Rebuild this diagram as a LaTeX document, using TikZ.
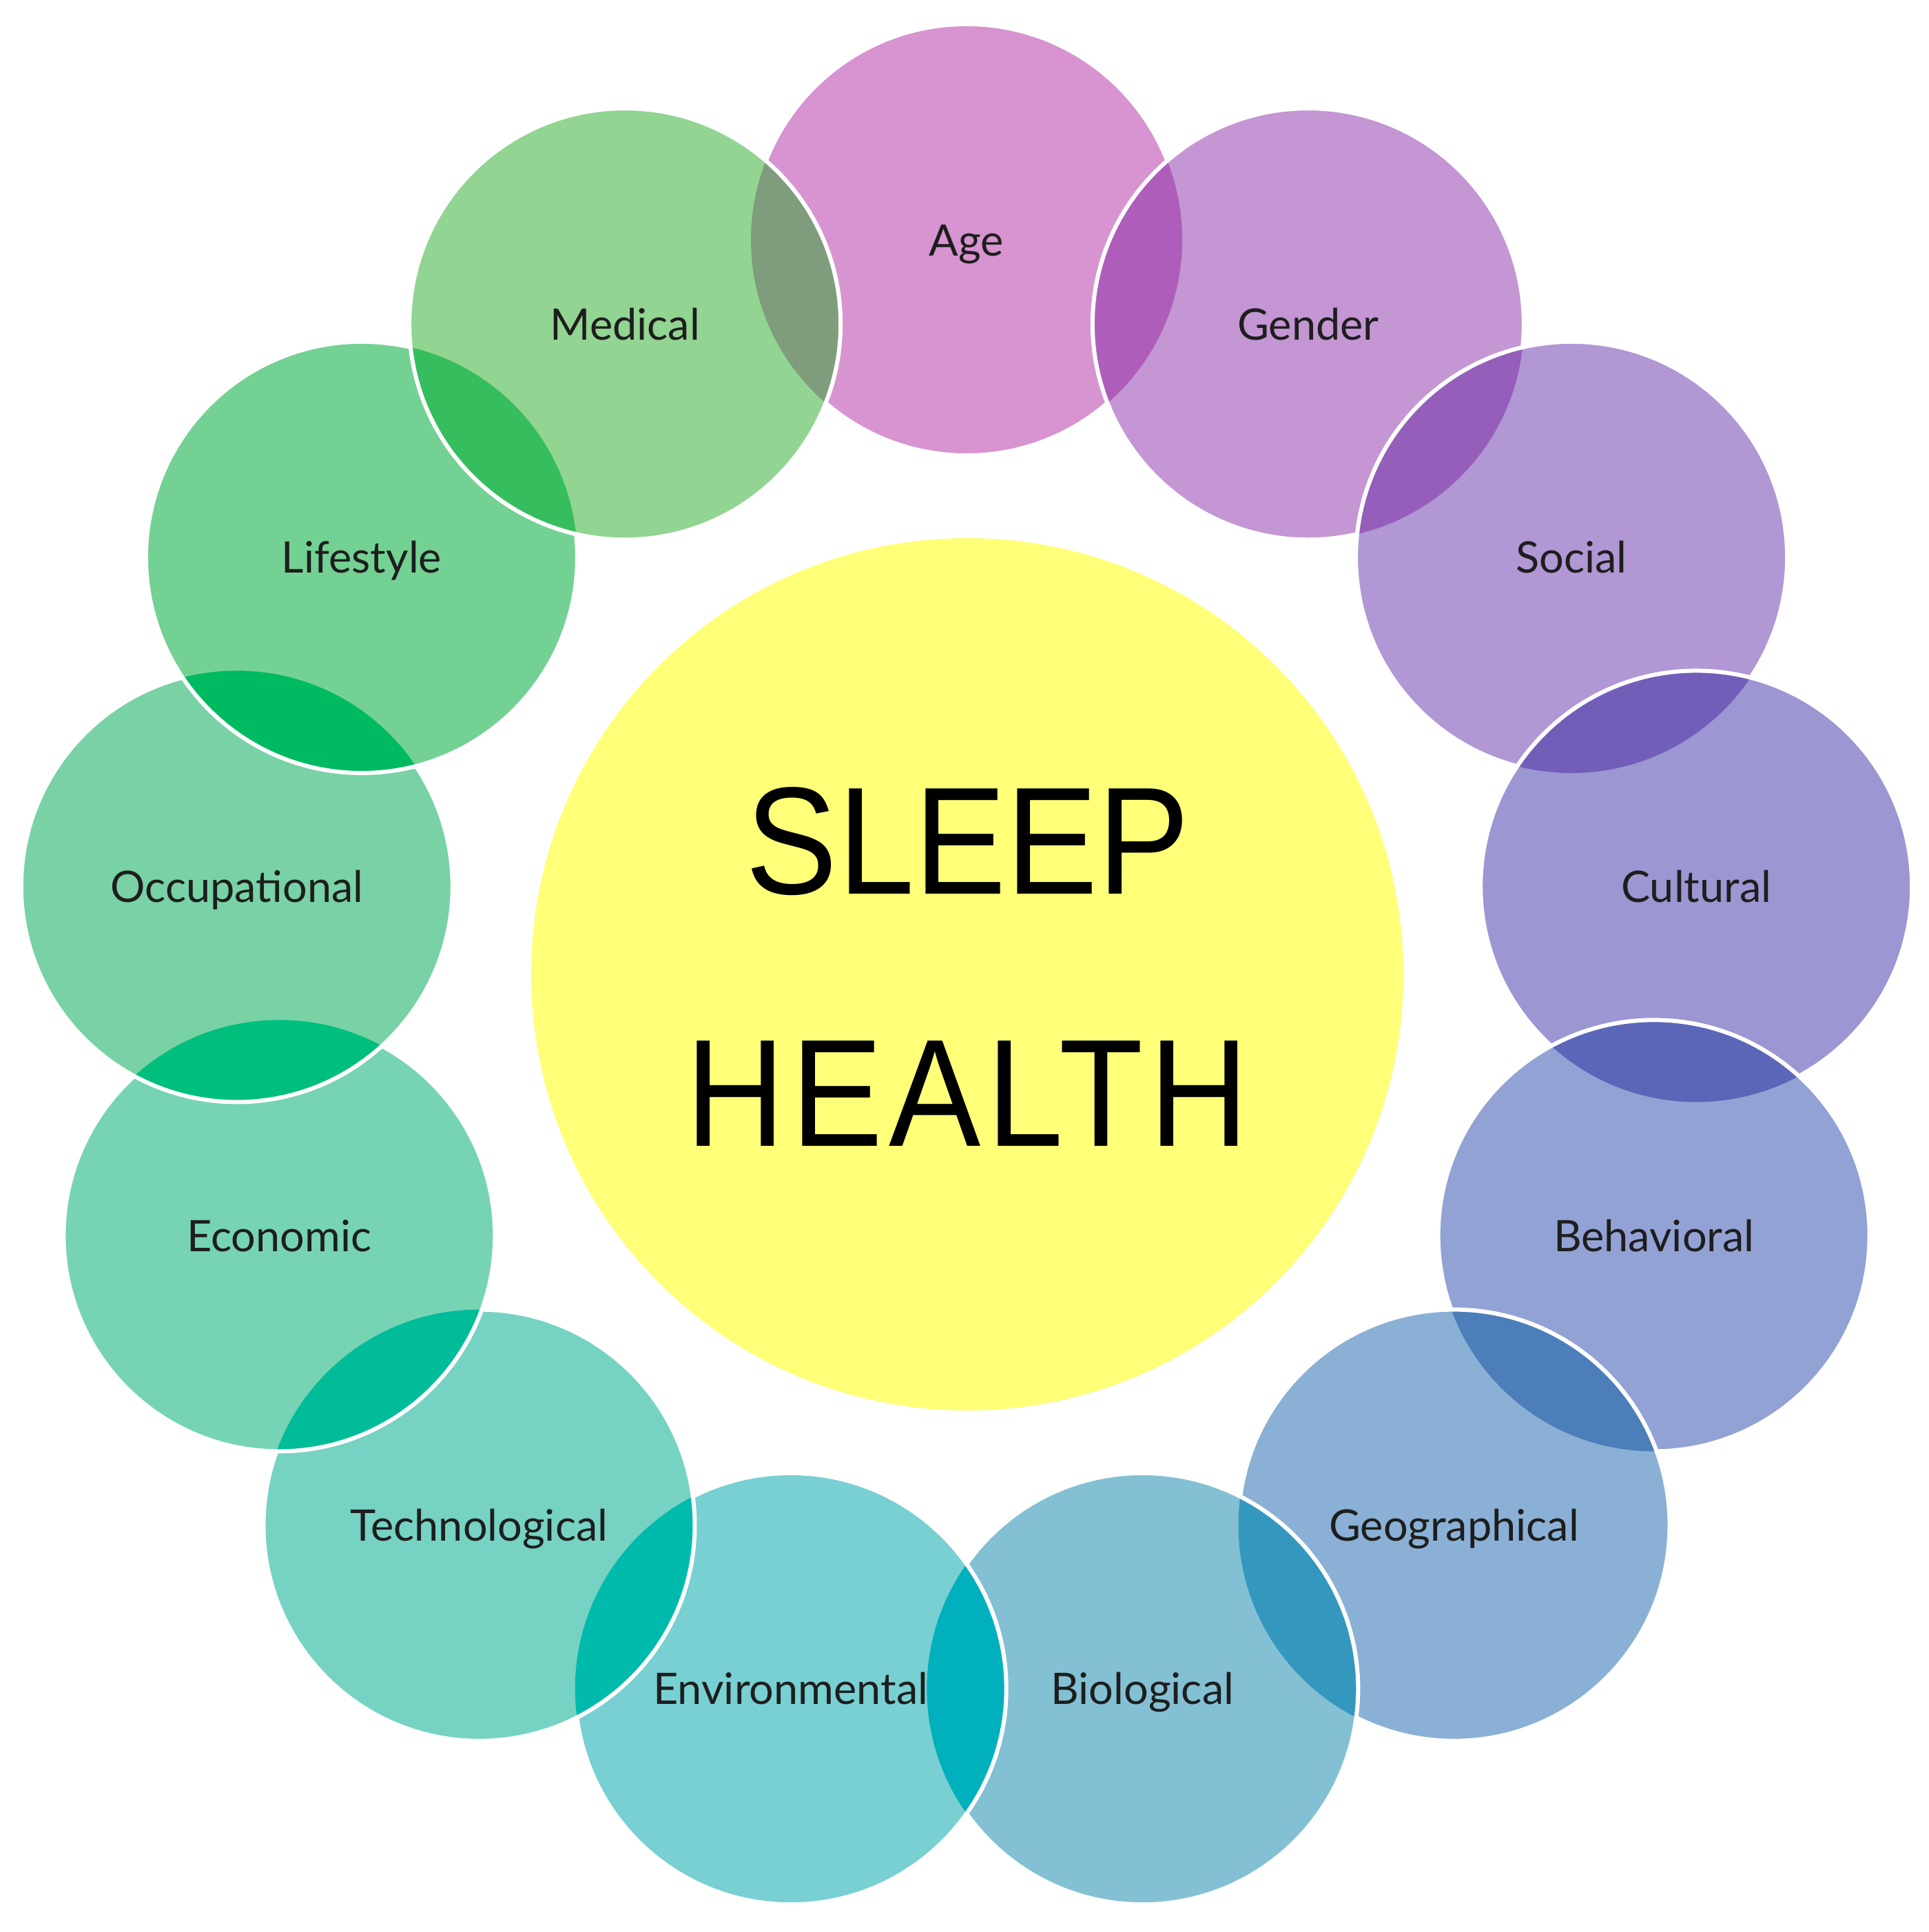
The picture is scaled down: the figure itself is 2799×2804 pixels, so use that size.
\documentclass[tikz,border=0pt]{standalone}
\usepackage{fontspec}
\setmainfont{Lato}
\newfontfamily\titlefont[FakeStretch=0.9]{Liberation Sans}
\newfontfamily\titlewide[FakeStretch=0.9,LetterSpace=4]{Liberation Sans}
\definecolor{sun}{HTML}{FFFF78}
\definecolor{lbltext}{HTML}{1E1E1E}
\definecolor{f0}{HTML}{D794D0}
\definecolor{f1}{HTML}{C496D3}
\definecolor{f2}{HTML}{B197D4}
\definecolor{f3}{HTML}{9C96D2}
\definecolor{f4}{HTML}{93A2D4}
\definecolor{f5}{HTML}{8AB0D5}
\definecolor{f6}{HTML}{84C0D4}
\definecolor{f7}{HTML}{78D0D2}
\definecolor{f8}{HTML}{76D3C4}
\definecolor{f9}{HTML}{76D4B4}
\definecolor{f10}{HTML}{78D2A6}
\definecolor{f11}{HTML}{74D194}
\definecolor{f12}{HTML}{92D492}
\definecolor{o0}{HTML}{7F9C7C}
\definecolor{o1}{HTML}{AE5EBA}
\definecolor{o2}{HTML}{945EBA}
\definecolor{o3}{HTML}{725EB8}
\definecolor{o4}{HTML}{5C66B8}
\definecolor{o5}{HTML}{4C7EBA}
\definecolor{o6}{HTML}{3498BE}
\definecolor{o7}{HTML}{00B0BC}
\definecolor{o8}{HTML}{00BAAC}
\definecolor{o9}{HTML}{00BC98}
\definecolor{o10}{HTML}{00BE7C}
\definecolor{o11}{HTML}{00BA62}
\definecolor{o12}{HTML}{36BE5E}
\begin{document}
\begin{tikzpicture}[x=0.25pt,y=-0.25pt,
  bubble/.style={circle, minimum size=156.5pt, inner sep=0pt, draw=none},
  ring/.style={draw=white, line width=1.5pt},
  lbl/.style={font=\fontsize{15.75}{18}\selectfont, text=lbltext, anchor=base, inner sep=0pt},
  ttl/.style={font=\titlefont\fontsize{55.5}{60}\selectfont, text=black, anchor=base, inner sep=0pt}]
\useasboundingbox (0,0) rectangle (2799,2804);
\fill[white] (0,0) rectangle (2799,2804);
\node[circle, fill=sun, minimum size=316.5pt, inner sep=0pt] (hub) at (1404,1414) {};
\foreach \k in {0,...,12}
  \coordinate (c\k) at ({1403+1067*sin(\k*360/13)},{1415-1067*cos(\k*360/13)});
\foreach \k in {0,...,12} {
  \pgfmathtruncatemacro{\p}{\k-1}
  \node[bubble, fill=f\k] (b\k) at (c\k) {};
  \ifnum\k>0
    \begin{scope}
      \clip (c\k) circle[radius=78.25pt];
      \fill[o\k] (c\p) circle[radius=78.25pt];
    \end{scope}
  \fi
  \ifnum\k=12
    \begin{scope}
      \clip (c\k) circle[radius=78.25pt];
      \fill[o0] (c0) circle[radius=78.25pt];
    \end{scope}
  \fi
  \draw[ring] (c\k) circle[radius=78.25pt];
}
\foreach \k/\t in {0/Age,1/Gender,2/Social,3/Cultural,4/Behavioral,5/Geographical,6/Biological,7/Environmental,8/Technological,9/Economic,10/Occupational,11/Lifestyle,12/Medical}
  \node[lbl] (l\k) at ([yshift=-5.75pt]c\k) {\t};
\node[ttl] (sleep) at (1405,1297) {SLEEP};
\node[ttl, font=\titlewide\fontsize{55.5}{60}\selectfont] (health) at (1404,1663) {HEALTH};
\end{tikzpicture}
\end{document}
